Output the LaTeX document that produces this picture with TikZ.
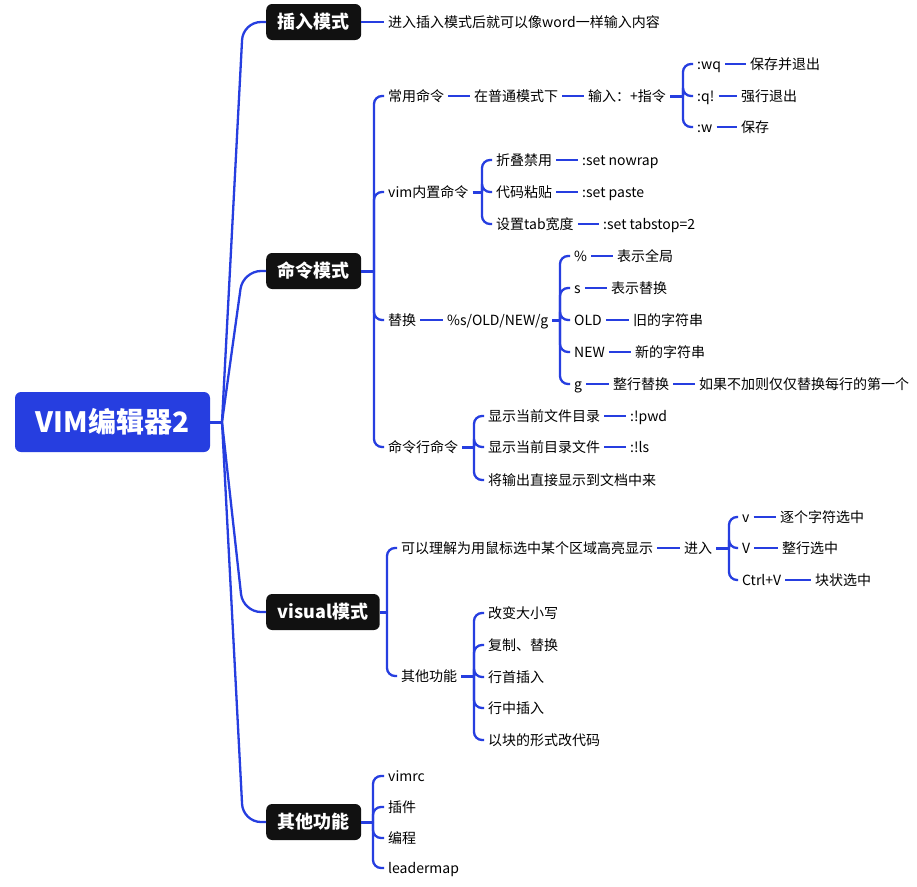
\documentclass[tikz,border=0pt]{standalone}
\usepackage{fontspec}
\setmainfont{Noto Sans CJK SC}
\usetikzlibrary{positioning,calc}
\definecolor{vimblue}{RGB}{38,62,224}
\definecolor{modebg}{RGB}{17,17,17}

\begin{document}
\begin{tikzpicture}[x=1pt,y=-1pt,
  link/.style={vimblue,line width=2.3pt},
  hub/.style={vimblue,line width=3pt},
  bracket/.style={vimblue,line width=2.3pt,rounded corners=8pt},
  rootbox/.style={fill=vimblue,text=white,rounded corners=6pt,minimum width=195pt,minimum height=60pt,font=\bfseries\fontsize{28}{32}\selectfont},
  modebox/.style={fill=modebg,text=white,rounded corners=6pt,anchor=west,minimum height=36pt,inner xsep=11.5pt,font=\bfseries\fontsize{18}{20}\selectfont},
  leaf/.style={anchor=west,inner xsep=4pt,inner ysep=0pt,text height=12pt,text depth=1pt,font=\fontsize{14}{16}\selectfont}]
  \useasboundingbox[fill=white] (0,0) rectangle (917,886);
  \node[rootbox] (root) at (112.5,422) {VIM编辑器2};
  \node[modebox] (insert) at (266,22) {插入模式};
  \node[modebox] (command) at (266,271) {命令模式};
  \node[modebox] (visual) at (266,612) {visual模式};
  \node[modebox] (other) at (266,822) {其他功能};
  \coordinate (hroot) at (222,422);
  \draw[hub] (root.east) -- (hroot);
  \foreach \m in {insert,command,visual,other}
    \draw[link,rounded corners=18pt] (hroot) -- (\m.west -| 243,0) -- (\m.west);
  % insert mode
  \node[leaf] (insdesc) at (384,22) {进入插入模式后就可以像word一样输入内容};
  \draw[link] (insert) -- (insdesc);
  % command mode
  \coordinate (hcmd) at (374,271);
  \draw[hub] (command.east) -- (hcmd);
  \node[leaf] (common) at (384,96) {常用命令};
  \node[leaf] (builtin) at (384,192) {vim内置命令};
  \node[leaf] (replace) at (384,320) {替换};
  \node[leaf] (cmdline) at (384,447) {命令行命令};
  \foreach \c in {common,builtin,replace,cmdline} \draw[bracket] (hcmd) |- (\c.west);
  \node[leaf] (normal) at (470,96) {在普通模式下};
  \node[leaf] (typein) at (584,96) {输入：+指令};
  \draw[link] (common) -- (normal);
  \draw[link] (normal) -- (typein);
  \coordinate (htype) at (683,96);
  \draw[hub] (typein.east) -- (htype);
  \node[leaf] (wq) at (693,64) {:wq};
  \node[leaf] (qbang) at (693,96) {:q!};
  \node[leaf] (wonly) at (693,127) {:w};
  \foreach \c in {wq,qbang,wonly} \draw[bracket] (htype) |- (\c.west);
  \node[leaf] (saveq) at (746,64) {保存并退出};
  \node[leaf] (forceq) at (737,96) {强行退出};
  \node[leaf] (save) at (737,127) {保存};
  \draw[link] (wq) -- (saveq);
  \draw[link] (qbang) -- (forceq);
  \draw[link] (wonly) -- (save);
  \coordinate (hbuilt) at (482,192);
  \draw[hub] (builtin.east) -- (hbuilt);
  \node[leaf] (fold) at (492,160) {折叠禁用};
  \node[leaf] (paste) at (492,192) {代码粘贴};
  \node[leaf] (tabw) at (492,224) {设置tab宽度};
  \foreach \c in {fold,paste,tabw} \draw[bracket] (hbuilt) |- (\c.west);
  \node[leaf] (nowrap) at (578,160) {:set nowrap};
  \node[leaf] (setpaste) at (578,192) {:set paste};
  \node[leaf] (tabstop) at (599,224) {:set tabstop=2};
  \draw[link] (fold) -- (nowrap);
  \draw[link] (paste) -- (setpaste);
  \draw[link] (tabw) -- (tabstop);
  \node[leaf] (pattern) at (443,320) {\%s/OLD/NEW/g};
  \draw[link] (replace) -- (pattern);
  \coordinate (hpat) at (560,320);
  \draw[hub] (pattern.east) -- (hpat);
  \node[leaf] (pct) at (570,256) {\%};
  \node[leaf] (sflag) at (570,288) {s};
  \node[leaf] (oldp) at (570,320) {OLD};
  \node[leaf] (newp) at (570,352) {NEW};
  \node[leaf] (gflag) at (570,384) {g};
  \foreach \c in {pct,sflag,oldp,newp,gflag} \draw[bracket] (hpat) |- (\c.west);
  \node[leaf] (global) at (613,256) {表示全局};
  \node[leaf] (subst) at (607,288) {表示替换};
  \node[leaf] (oldstr) at (629,320) {旧的字符串};
  \node[leaf] (newstr) at (631,352) {新的字符串};
  \node[leaf] (wholeline) at (609,384) {整行替换};
  \node[leaf] (firstonly) at (695,384) {如果不加则仅仅替换每行的第一个};
  \draw[link] (pct) -- (global);
  \draw[link] (sflag) -- (subst);
  \draw[link] (oldp) -- (oldstr);
  \draw[link] (newp) -- (newstr);
  \draw[link] (gflag) -- (wholeline);
  \draw[link] (wholeline) -- (firstonly);
  \coordinate (hcl) at (474,447);
  \draw[hub] (cmdline.east) -- (hcl);
  \node[leaf] (pwddesc) at (484,416) {显示当前文件目录};
  \node[leaf] (lsdesc) at (484,447) {显示当前目录文件};
  \node[leaf] (redir) at (484,480) {将输出直接显示到文档中来};
  \foreach \c in {pwddesc,lsdesc,redir} \draw[bracket] (hcl) |- (\c.west);
  \node[leaf] (pwd) at (626,416) {:!pwd};
  \node[leaf] (ls) at (626,447) {:!ls};
  \draw[link] (pwddesc) -- (pwd);
  \draw[link] (lsdesc) -- (ls);
  % visual mode
  \coordinate (hvis) at (387,612);
  \draw[hub] (visual.east) -- (hvis);
  \node[leaf] (highlight) at (397,548) {可以理解为用鼠标选中某个区域高亮显示};
  \node[leaf] (vother) at (397,676) {其他功能};
  \foreach \c in {highlight,vother} \draw[bracket] (hvis) |- (\c.west);
  \node[leaf] (enter) at (680,548) {进入};
  \draw[link] (highlight) -- (enter);
  \coordinate (henter) at (729,548);
  \draw[hub] (enter.east) -- (henter);
  \node[leaf] (vchar) at (738,517) {v};
  \node[leaf] (vline) at (738,548) {V};
  \node[leaf] (vblock) at (738,580) {Ctrl+V};
  \foreach \c in {vchar,vline,vblock} \draw[bracket] (henter) |- (\c.west);
  \node[leaf] (bychar) at (776,517) {逐个字符选中};
  \node[leaf] (byline) at (778,548) {整行选中};
  \node[leaf] (byblock) at (811,580) {块状选中};
  \draw[link] (vchar) -- (bychar);
  \draw[link] (vline) -- (byline);
  \draw[link] (vblock) -- (byblock);
  \coordinate (hvo) at (474,676);
  \draw[hub] (vother.east) -- (hvo);
  \node[leaf] (casechg) at (484,613) {改变大小写};
  \node[leaf] (copyrep) at (484,645) {复制、替换};
  \node[leaf] (linehead) at (484,677) {行首插入};
  \node[leaf] (linemid) at (484,708) {行中插入};
  \node[leaf] (blockedit) at (484,740) {以块的形式改代码};
  \foreach \c in {casechg,copyrep,linehead,linemid,blockedit} \draw[bracket] (hvo) |- (\c.west);
  % other features
  \coordinate (hoth) at (373,822);
  \draw[hub] (other.east) -- (hoth);
  \node[leaf] (vimrc) at (384,776) {vimrc};
  \node[leaf] (plugin) at (384,807) {插件};
  \node[leaf] (coding) at (384,838) {编程};
  \node[leaf] (leader) at (384,868) {leadermap};
  \foreach \c in {vimrc,plugin,coding,leader} \draw[bracket] (hoth) |- (\c.west);
\end{tikzpicture}
\end{document}
